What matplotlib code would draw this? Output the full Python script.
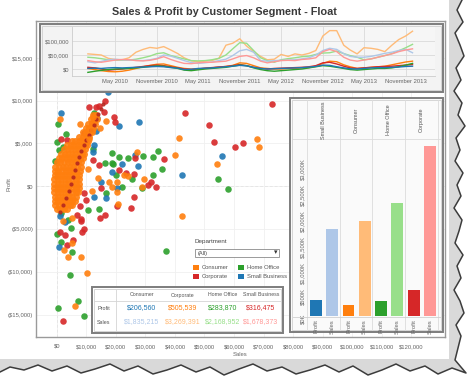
import numpy as np
import pandas as pd
import matplotlib
matplotlib.use('Agg')
import matplotlib.pyplot as plt
from matplotlib.patches import Rectangle, Polygon
from matplotlib.ticker import FuncFormatter
from matplotlib import font_manager as fm

W, H = 474, 383

# ---- data -------------------------------------------------------------
# scatter points (sales, profit) in $K
consumer_pts = [(41.3, 5.6), (40.0, 3.65), (54.3, 2.6), (67.9, 5.5), (68.6, 4.6), (42.3, -3.5),
                (7.8, 7.3), (1.0, 7.8), (27.1, 4.0), (22.6, 1.3), (17.6, 0.5), (20.3, 0.5),
                (20.3, -0.7), (18.6, -0.1), (16.6, 7.6), (11.9, 6.6), (12.2, 8.1), (20.6, -2.1),
                (29.6, 0.8), (5.1, -6.6), (2.4, -7.4), (3.7, -8.2), (8.1, -8.2), (10.2, -10.1),
                (6.1, -14.0), (5.0, -3.65), (2.0, -4.0), (28.7, -0.1), (24.0, 1.2), (14.0, 1.0),
                (12.0, -0.5), (10.5, 2.0), (11.0, 5.5), (14.5, 6.8)]
# dense consumer cluster near the origin: profit row -> sales values
consumer_blob = [(-2.7, [0, 1.2, 2.4, 3.4]),
                 (-2.2, [-0.5, 0.8, 2.0, 3.2, 4.4, 5.2]),
                 (-1.7, [-0.8, 0.4, 1.6, 2.8, 4.0, 5.2, 6.0]),
                 (-1.2, [-0.8, 0.4, 1.6, 2.8, 4.0, 5.2, 6.3]),
                 (-0.7, [-0.9, 0.3, 1.5, 2.7, 3.9, 5.1, 6.3, 7.0]),
                 (-0.2, [-0.9, 0.3, 1.5, 2.7, 3.9, 5.1, 6.3, 7.4]),
                 (0.3, [-0.9, 0.3, 1.5, 2.7, 3.9, 5.1, 6.3, 7.5]),
                 (0.8, [-0.9, 0.3, 1.5, 2.7, 3.9, 5.1, 6.3, 7.6]),
                 (1.3, [-0.8, 0.4, 1.6, 2.8, 4.0, 5.2, 6.4, 7.6]),
                 (1.8, [-0.7, 0.5, 1.7, 2.9, 4.1, 5.3, 6.5, 7.8]),
                 (2.3, [-0.5, 0.7, 1.9, 3.1, 4.3, 5.5, 6.7, 8.0]),
                 (2.8, [0, 1.2, 2.4, 3.6, 4.8, 6.0, 7.2, 8.3]),
                 (3.3, [0.6, 1.8, 3.0, 4.2, 5.4, 6.6, 7.8, 8.8]),
                 (3.8, [1.4, 2.6, 3.8, 5.0, 6.2, 7.4, 8.6, 9.2]),
                 (4.3, [2.4, 3.6, 4.8, 6.0, 7.2, 8.4, 9.6]),
                 (4.8, [3.5, 4.7, 5.9, 7.1, 8.3, 9.5, 10.2]),
                 (5.3, [5.0, 6.2, 7.4, 8.6, 9.8, 10.6]),
                 (5.8, [7.5, 8.7, 9.9, 11.0]),
                 (6.3, [8.8, 10.0, 11.2, 12.0]),
                 (6.8, [9.8, 11.0, 12.3]),
                 (7.3, [10.6, 11.8, 12.9]),
                 (7.8, [11.4, 12.6, 13.5]),
                 (8.3, [12.2, 13.4])]
corporate_pts = [(72.9, 9.6), (43.3, 8.6), (51.6, 7.2), (53.3, 5.2), (63.2, 5.1), (60.3, 4.6),
                 (19.3, 8.1), (19.7, 7.5), (16.3, 9.9), (10.8, 9.2), (14.3, 9.4), (13.3, 9.3),
                 (16.0, 8.7), (12.7, 7.5), (11.9, 7.4), (9.0, 6.2), (26.6, 3.3), (36.3, 3.2),
                 (32.0, 0.5), (31.0, 0.2), (33.6, -0.1), (26.0, -1.3), (25.0, -2.5), (23.3, 1.5),
                 (26.0, 1.4), (21.0, 1.9), (14.3, 2.5), (15.0, -0.2), (20.3, -2.35), (14.6, -3.65),
                 (16.3, -3.3), (7.7, -2.35), (10.0, -1.65), (9.3, -0.8), (8.0, -3.8), (6.7, -3.3),
                 (8.3, -4.1), (9.2, -5.0), (8.5, -5.3), (1.0, -5.3), (2.7, -5.7), (5.4, -6.3),
                 (3.4, -6.8), (2.0, -15.7), (1.3, 5.5), (3.3, 5.4), (12.2, 3.1)]
corporate_streak = [(1.0, -3.0), (2.0, -2.2), (3.0, -1.4), (4.0, -0.6), (4.8, 0.3), (5.5, 1.1),
                    (6.1, 1.9), (6.8, 2.7), (7.5, 3.4), (8.3, 4.1), (9.2, 4.8), (10.0, 5.4),
                    (10.8, 6.0), (11.6, 6.6), (12.4, 7.2), (13.2, 7.8), (14.0, 8.4), (14.8, 9.0),
                    (15.5, 9.6)]
home_office_pts = [(54.7, 0.8), (57.9, -0.35), (36.9, -7.5), (29.3, 3.5), (34.3, 4.1), (32.6, 3.4),
                   (35.6, 2.0), (32.6, 1.3), (25.3, 0.9), (24.0, 3.3), (21.0, 3.4), (18.6, 3.9),
                   (18.6, 2.7), (16.3, 2.7), (19.0, 2.6), (20.0, 1.3), (22.0, -0.1), (16.7, -0.8),
                   (14.3, -2.7), (10.6, -2.8), (12.2, 4.3), (12.7, 8.6), (0.3, 7.3), (3.1, 6.1),
                   (0.0, 5.2), (2.0, 4.6), (0.7, 4.2), (4.7, -4.9), (0.0, -5.6), (1.4, -6.5),
                   (5.1, -7.7), (4.4, -10.4), (7.1, -13.4), (0.3, -14.2), (9.2, -15.2), (3.7, -3.9),
                   (28.7, -0.2), (-0.6, 3.0), (1.5, -3.1)]
small_business_pts = [(42.3, 1.3), (56.0, 3.5), (27.8, 7.5), (21.0, 7.0), (17.3, 11.0), (13.6, 8.0),
                      (13.2, 6.5), (12.7, 4.8), (12.3, 4.0), (1.4, 8.5), (26.4, 3.6), (27.6, 2.35),
                      (22.0, 2.6), (18.6, 1.65), (20.3, -0.2), (16.7, -1.4), (12.7, -1.3), (1.0, -3.5),
                      (2.7, -4.2), (0.7, -7.1), (15.0, 0.5)]

# monthly lines, $K, Jan 2010 .. Dec 2013
months = pd.date_range('2010-01-01', periods=48, freq='MS')
sales_lt_orange = [54, 52, 50, 38, 34, 33, 40, 60, 70, 77, 74, 80, 68, 55, 40, 29, 26, 28, 30, 38, 85, 92, 108, 82,
                   62, 45, 33, 35, 52, 45, 54, 50, 56, 66, 118, 137, 137, 85, 68, 54, 76, 74, 70, 62, 85, 105, 118, 135]
sales_lt_green = [42, 40, 37, 33, 32, 32, 32, 35, 40, 46, 55, 58, 48, 42, 36, 30, 29, 30, 33, 38, 50, 72, 94, 92,
                  66, 40, 30, 24, 33, 37, 40, 44, 46, 52, 57, 58, 64, 55, 48, 42, 33, 36, 42, 48, 55, 65, 76, 88]
sales_lt_blue = [26, 22, 27, 33, 35, 33, 32, 31, 30, 33, 38, 50, 46, 38, 30, 23, 20, 22, 25, 30, 35, 48, 65, 70,
                 60, 30, 28, 30, 31, 32, 33, 36, 40, 50, 66, 74, 70, 55, 45, 42, 42, 45, 50, 56, 60, 66, 70, 58]
sales_pink = [30, 26, 24, 28, 32, 34, 33, 30, 29, 31, 36, 44, 34, 26, 20, 19, 22, 24, 24, 26, 28, 36, 45, 48,
              40, 28, 22, 26, 30, 31, 30, 34, 36, 40, 62, 70, 62, 42, 32, 28, 32, 36, 42, 48, 54, 62, 68, 72]
profit_orange = [2, -2, -6, -9, -10, -8, -4, 2, 8, 13, 17, 18, 12, 6, 2, 0, 0, 2, 4, 7, 9, 13, 22, 20,
                 12, 4, 2, 0, 0, 2, 2, 4, 5, 10, 20, 28, 26, 15, 8, 2, 4, 6, 8, 10, 15, 20, 25, 28]
profit_red = [6, 4, 0, -4, -2, 0, 3, 6, 9, 12, 14, 12, 8, 4, 0, -2, 0, 3, 5, 7, 9, 12, 16, 12,
              6, 2, 0, 2, 3, 4, 5, 6, 8, 12, 22, 24, 18, 10, 4, 2, 4, 6, 8, 9, 10, 12, 14, 16]
profit_green = [-12, -8, -5, -2, 0, 1, 2, 4, 6, 9, 11, 10, 6, 2, -4, -6, -3, 0, 2, 4, 6, 10, 14, 12,
                4, -2, -6, -8, -6, -4, -2, 0, 4, 8, 12, 10, 6, 2, -2, -4, -2, 0, 2, 2, 4, 8, 14, 20]
profit_blue = [2, 3, 2, 4, 5, 4, 5, 6, 7, 8, 9, 8, 5, 3, -2, -1, 2, 3, 4, 6, 8, 10, 13, 11,
               6, 2, 0, 1, 2, 3, 4, 5, 7, 9, 14, 13, 8, 4, 1, 0, 2, 4, 5, 5, 6, 7, 9, 10]

# totals per segment
bar_segments = ['Small Business', 'Consumer', 'Home Office', 'Corporate']
bar_profit = [316475, 206560, 283870, 505539]
bar_sales = [1678373, 1835215, 2168952, 3269391]
table_cols = ['Consumer', 'Corporate', 'Home Office', 'Small Business']

# ---- styling ----------------------------------------------------------
names = {f.name for f in fm.fontManager.ttflist}
base_font = 'Liberation Sans' if 'Liberation Sans' in names else 'DejaVu Sans'
plt.rcParams['font.family'] = [base_font, 'DejaVu Sans']

BLUE, ORANGE, GREEN, RED = '#1f77b4', '#ff7f0e', '#2ca02c', '#d62728'
LBLUE, LORANGE, LGREEN, PINK = '#aec7e8', '#ffbb78', '#98df8a', '#ff9896'
TXT = '#666666'
TS = 4.2


def rect(x0, y0, x1, y1):
    return [x0 / W, 1 - y1 / H, (x1 - x0) / W, (y1 - y0) / H]


def pixel_axes(z):
    a = fig.add_axes([0, 0, 1, 1], zorder=z)
    a.set_xlim(0, W)
    a.set_ylim(H, 0)
    a.axis('off')
    a.patch.set_alpha(0)
    return a


def money(v, pos=None):
    if v < 0:
        return '(${:,.0f})'.format(-v)
    return '${:,.0f}'.format(v)


fig = plt.figure(figsize=(W / 100, H / 100), dpi=100)

# background: paper with torn edge
bg = pixel_axes(-3)
right_y = [0, 10, 22, 33, 45, 56, 68, 80, 91, 103, 115, 126, 138, 150, 161, 173, 185, 196, 208, 220,
           231, 243, 255, 266, 278, 290, 301, 313, 325, 336, 348, 360]
right_x = [462, 457, 463, 455, 460, 464, 456, 461, 454, 462, 458, 465, 456, 460, 455, 463, 457, 461, 454, 462,
           459, 455, 463, 457, 461, 454, 460, 464, 456, 461, 458, 455]
bot_x = [466, 452, 438, 425, 410, 396, 382, 368, 353, 339, 325, 310, 296, 282, 267, 253, 239, 224, 210,
         196, 181, 167, 153, 138, 124, 110, 95, 81, 67, 52, 38, 24, 10, 0]
bot_y = [373, 368, 374, 366, 371, 364, 370, 375, 366, 372, 365, 370, 374, 367, 371, 364, 369, 375, 367,
         372, 365, 370, 374, 366, 371, 364, 369, 373, 366, 371, 365, 370, 367, 372]
edge = list(zip(right_x, right_y)) + list(zip(bot_x, bot_y))
bg.add_patch(Polygon([(0, 0)] + edge, closed=True, facecolor='#d9d9d9', edgecolor='none'))
bg.plot([p[0] for p in edge], [p[1] for p in edge], color='#3c3c3c', lw=1.1)
bg.add_patch(Rectangle((0, 0), 449, 359, facecolor='white', edgecolor='none'))
bg.text(224, 12, 'Sales & Profit by Customer Segment - Float', ha='center', va='center',
        fontsize=7.8, fontweight='bold', color='#3a3a3a')

# ---- scatter ---------------------------------------------------------
sc = fig.add_axes(rect(36, 21, 445, 337), zorder=0)
sc.set_xlim(-7100, 131500)
sc.set_ylim(-17600, 19300)


def scat(pts, color, s=22):
    xs = [p[0] * 1000 for p in pts]
    ys = [p[1] * 1000 for p in pts]
    sc.scatter(xs, ys, s=s, color=color, alpha=0.9, linewidths=0, zorder=3)


blob = [(x, py) for py, row in consumer_blob for x in row]
scat(home_office_pts, GREEN)
scat(small_business_pts, BLUE)
scat(corporate_pts, RED)
scat(blob, ORANGE, s=25)
scat(corporate_streak, '#b5271f', s=9)
scat(consumer_pts, ORANGE)

sc.set_xticks(np.arange(0, 120001, 10000))
sc.set_yticks(np.arange(-15000, 15001, 5000))
sc.xaxis.set_major_formatter(FuncFormatter(money))
sc.yaxis.set_major_formatter(FuncFormatter(money))
sc.tick_params(axis='both', length=0, labelsize=TS, labelcolor=TXT)
sc.tick_params(axis='x', pad=5)
sc.tick_params(axis='y', pad=2)
sc.grid(color='#f0f0f0', lw=0.6, zorder=0)
sc.axhline(0, color='#b5b5b5', ls=(0, (3, 2)), lw=0.7, zorder=1)
sc.axvline(0, color='#b5b5b5', ls=(0, (3, 2)), lw=0.7, zorder=1)
for sp in sc.spines.values():
    sp.set_color('#9a9a9a')
    sp.set_linewidth(1.0)
sc.set_xlabel('Sales', fontsize=TS, color=TXT, labelpad=2)

# ---- floating boxes ----------------------------------------------------
mid = pixel_axes(1)


def box(x0, y0, x1, y1, fill):
    mid.add_patch(Rectangle((x0, y0), x1 - x0, y1 - y0, facecolor=fill, edgecolor='#7d7d7d', lw=1.4))
    mid.add_patch(Rectangle((x0 + 2, y0 + 2), x1 - x0 - 4, y1 - y0 - 4, facecolor='none',
                            edgecolor='#cfcfcf', lw=0.6))


box(40, 24, 443, 92, '#f3f3f3')
box(290, 98, 443, 332, '#fafafa')
box(92, 287, 283, 333, 'white')

# ---- line chart ----------------------------------------------------------
lc = fig.add_axes(rect(72, 27, 435, 76), zorder=2)
lc.set_facecolor('#f6f6f6')
for vals, col in [(sales_lt_orange, LORANGE), (sales_lt_green, LGREEN), (sales_lt_blue, LBLUE),
                  (sales_pink, PINK), (profit_orange, ORANGE), (profit_red, RED),
                  (profit_green, GREEN), (profit_blue, BLUE)]:
    lc.plot(months, np.array(vals) * 1000, color=col, lw=1.0)
lc.set_xlim(pd.Timestamp('2009-10-23'), pd.Timestamp('2014-03-10'))
lc.set_ylim(-25000, 150000)
ticks = [pd.Timestamp(f'{y}-{m:02d}-01') for y in range(2010, 2014) for m in (5, 11)]
lc.set_xticks(ticks)
lc.set_xticklabels([t.strftime('%B %Y') if t.month == 11 else t.strftime('%b %Y') for t in ticks])
lc.set_yticks([0, 50000, 100000])
lc.yaxis.set_major_formatter(FuncFormatter(money))
lc.tick_params(axis='both', length=0, labelsize=TS, labelcolor=TXT, pad=2)
lc.grid(color='#dadada', lw=0.6)
lc.set_axisbelow(True)
for k, sp in lc.spines.items():
    sp.set_visible(k in ('left', 'bottom'))
    sp.set_color('#cccccc')
    sp.set_linewidth(0.6)

# ---- bar chart ---------------------------------------------------------
bc = fig.add_axes(rect(307, 140, 438, 316), zorder=2)
bc.set_facecolor('#fafafa')
pos = np.arange(len(bar_segments))
bc.bar(pos + 0.27, bar_profit, width=0.36, color=[BLUE, ORANGE, GREEN, RED])
bc.bar(pos + 0.76, bar_sales, width=0.36, color=[LBLUE, LORANGE, LGREEN, PINK])
bc.set_xlim(0, 4)
bc.set_ylim(0, 3385000)
bc.set_yticks(np.arange(0, 3000001, 500000))
bc.set_yticklabels(['${:,.0f}K'.format(v / 1000) for v in np.arange(0, 3000001, 500000)])
bc.set_xticks(np.concatenate([pos + 0.27, pos + 0.76]))
bc.set_xticklabels(['Profit'] * 4 + ['Sales'] * 4)
bc.tick_params(axis='y', length=0, labelsize=TS, labelcolor=TXT, labelrotation=90, pad=1)
bc.tick_params(axis='x', length=0, labelsize=TS, labelcolor=TXT, labelrotation=90, pad=2)
for sp in bc.spines.values():
    sp.set_visible(False)

# ---- top layer: headers, table, legend ---------------------------------------
top = pixel_axes(3)
col_w = (438 - 307) / 4
for k in range(5):
    top.plot([307 + k * col_w] * 2, [100, 330], color='#dcdcdc', lw=0.6)
top.plot([293, 440], [139, 139], color='#dcdcdc', lw=0.6)
top.plot([293, 440], [316.5, 316.5], color='#cfcfcf', lw=0.6)
for k, seg in enumerate(bar_segments):
    top.text(307 + (k + 0.5) * col_w, 120, seg, rotation=90, ha='center', va='center',
             fontsize=4.0, color='#555555')

# table
tbl_x = [142, 183, 223, 261]
top.plot([116, 116], [289, 331], color='#d5d5d5', lw=0.6)
top.plot([94, 281], [301, 301], color='#d5d5d5', lw=0.6)
profit_by = dict(zip(bar_segments, bar_profit))
sales_by = dict(zip(bar_segments, bar_sales))
prof_cols = [BLUE, ORANGE, GREEN, RED]
sale_cols = [LBLUE, LORANGE, LGREEN, PINK]
top.text(104, 308, 'Profit', ha='center', va='center', fontsize=3.9, color='#555555')
top.text(104, 322, 'Sales', ha='center', va='center', fontsize=3.9, color='#555555')
for k, seg in enumerate(table_cols):
    top.text(tbl_x[k], 295, seg, ha='center', va='center', fontsize=3.8, color='#555555')
    top.text(tbl_x[k], 308, '${:,.0f}'.format(profit_by[seg]), ha='center', va='center',
             fontsize=5.0, color=prof_cols[k])
    top.text(tbl_x[k], 322, '${:,.0f}'.format(sales_by[seg]), ha='center', va='center',
             fontsize=5.0, color=sale_cols[k])

# legend / filter
top.text(195, 242, 'Department', ha='left', va='center', fontsize=4.5, color='#444444')
top.add_patch(Rectangle((195, 249), 84, 8, facecolor='white', edgecolor='#8a8a8a', lw=0.6))
top.text(198, 253, '(All)', ha='left', va='center', fontsize=4.1, color='#444444')
top.text(276, 253, '\u25BE', ha='center', va='center', fontsize=5, color='#333333')
leg = [('Consumer', ORANGE, 193, 265), ('Corporate', RED, 193, 274),
       ('Home Office', GREEN, 238, 265), ('Small Business', BLUE, 238, 274)]
for name, col, lx, ly in leg:
    top.add_patch(Rectangle((lx, ly), 6, 5, facecolor=col, edgecolor='none'))
    top.text(lx + 9, ly + 2.5, name, ha='left', va='center', fontsize=TS, color='#555555')

top.text(9, 184, 'Profit', rotation=90, ha='center', va='center', fontsize=TS, color=TXT)

fig.savefig('out.png', dpi=100)
